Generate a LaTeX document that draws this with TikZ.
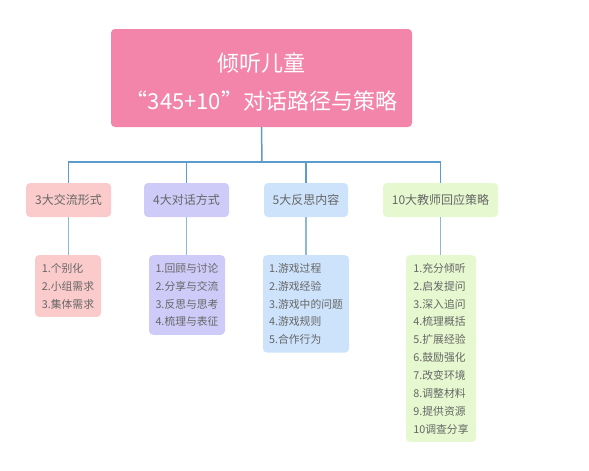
\documentclass[tikz,border=0pt]{standalone}
\usepackage{fontspec}
\setmainfont{Noto Sans CJK SC}
\definecolor{titlepink}{HTML}{F285A9}
\definecolor{pinkbox}{HTML}{FBCBCB}
\definecolor{violetbox}{HTML}{CFCBF8}
\definecolor{bluebox}{HTML}{CDE3FB}
\definecolor{greenbox}{HTML}{E5F8CF}
\definecolor{txtgray}{HTML}{666666}
\definecolor{busblue}{HTML}{5C9BCB}
\definecolor{linkblue}{HTML}{8CB9CC}
\begin{document}
\begin{tikzpicture}[x=1pt,y=-1pt,
  title/.style={fill=titlepink, rounded corners=4pt, minimum width=301pt,
    minimum height=98pt, text=white, align=center,
    font=\fontsize{22}{38}\selectfont},
  head/.style={rounded corners=4pt, minimum height=34pt, text=txtgray,
    font=\fontsize{12}{14}\selectfont},
  list/.style={rounded corners=4pt, anchor=north, text=txtgray, align=left,
    inner ysep=8pt, font=\fontsize{10.8}{17.86}\selectfont},
  bus/.style={draw=busblue, line width=1.5pt},
  link/.style={draw=linkblue, line width=1.2pt}]
  \useasboundingbox (0,0) rectangle (589,471);
  % title
  \node[title] (top) at (261.5,78) {\rule{0pt}{27pt}倾听儿童\\“345+10”对话路径与策略};
  \coordinate (bus) at (262,162);
  % four branches
  \node[head, fill=pinkbox, minimum width=85pt] (h1) at (68.5,200) {3大交流形式};
  \node[head, fill=violetbox, minimum width=85pt] (h2) at (186.5,200) {4大对话方式};
  \node[head, fill=bluebox, minimum width=84pt] (h3) at (306,200) {5大反思内容};
  \node[head, fill=greenbox, minimum width=115pt] (h4) at (440.5,200) {10大教师回应策略};
  % lists
  \node[list, fill=pinkbox, minimum width=66pt] (l1) at (68,255)
    {1.个别化\\2.小组需求\\3.集体需求};
  \node[list, fill=violetbox, minimum width=76pt] (l2) at (187,255)
    {1.回顾与讨论\\2.分享与交流\\3.反思与思考\\4.梳理与表征};
  \node[list, fill=bluebox, minimum width=86pt] (l3) at (306,255)
    {1.游戏过程\\2.游戏经验\\3.游戏中的问题\\4.游戏规则\\5.合作行为};
  \node[list, fill=greenbox, minimum width=70pt] (l4) at (441,255)
    {1.充分倾听\\2.启发提问\\3.深入追问\\4.梳理概括\\5.扩展经验\\6.鼓励强化\\7.改变环境\\8.调整材料\\9.提供资源\\10调查分享};
  % connectors
  \draw[bus] (top.south) -- (bus);
  \draw[bus] (h1.north) |- (bus) -| (h4.north);
  \draw[bus] (h2.north) -- (h2.north |- bus);
  \draw[bus] (h3.north) -- (h3.north |- bus);
  \draw[link] (h1.south) -- (h1.south |- l1.north);
  \draw[link] (h2.south) -- (h2.south |- l2.north);
  \draw[link] (h3.south) -- (h3.south |- l3.north);
  \draw[link] (h4.south) -- (h4.south |- l4.north);
\end{tikzpicture}
\end{document}
